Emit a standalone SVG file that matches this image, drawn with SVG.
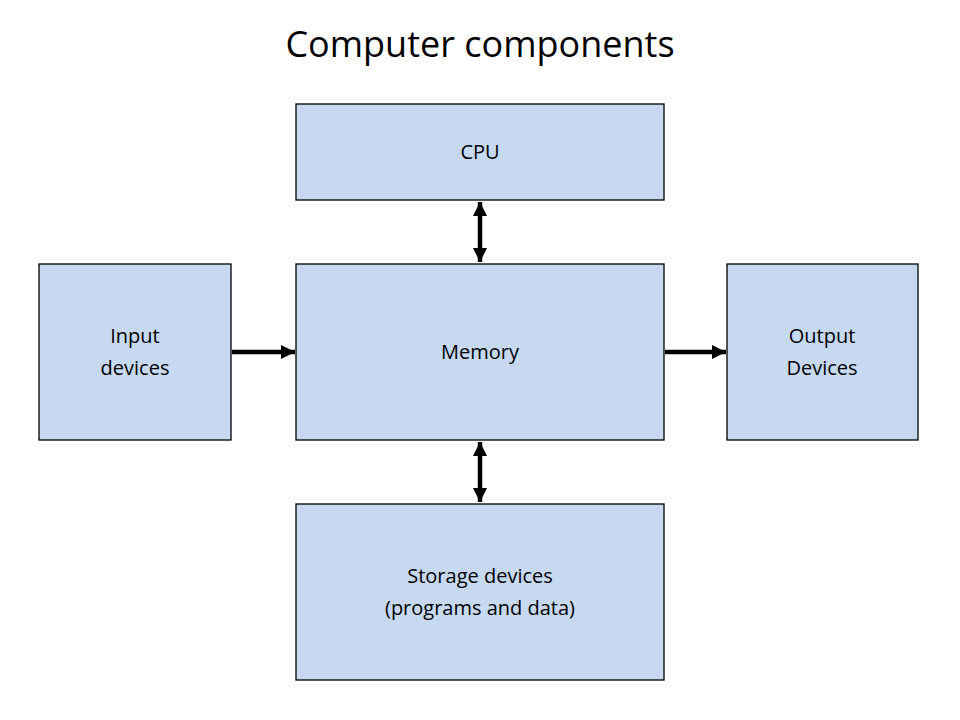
<svg xmlns="http://www.w3.org/2000/svg" width="960" height="720" viewBox="0 0 960 720">
<style>
.box{fill:#c6d9f1;stroke:#000;stroke-width:1.3}
.lbl{font-family:"Open Sans","Liberation Sans",sans-serif;font-size:20px;fill:#000;text-anchor:middle}
.con{stroke:#000;stroke-width:4.5;fill:none}
</style>
<defs>
<marker id="ah" viewBox="0 0 10 10" refX="10" refY="5" markerWidth="3.2" markerHeight="3.4" orient="auto-start-reverse" markerUnits="strokeWidth">
<path d="M0,0L10,5L0,10z" fill="#000"/>
</marker>
</defs>
<rect width="960" height="720" fill="#fff"/>
<text x="480" y="57" font-family="'Open Sans','Liberation Sans',sans-serif" font-size="36" text-anchor="middle">Computer components</text>
<g id="cpu"><rect class="box" x="296" y="104" width="368" height="96"/><text class="lbl" x="480" y="159">CPU</text></g>
<g id="memory"><rect class="box" x="296" y="264" width="368" height="176"/><text class="lbl" x="480" y="359">Memory</text></g>
<g id="input"><rect class="box" x="39" y="264" width="192" height="176"/><text class="lbl" x="135" y="343">Input</text><text class="lbl" x="135" y="375">devices</text></g>
<g id="output"><rect class="box" x="727" y="264" width="191" height="176"/><text class="lbl" x="822" y="343">Output</text><text class="lbl" x="822" y="375">Devices</text></g>
<g id="storage"><rect class="box" x="296" y="504" width="368" height="176"/><text class="lbl" x="480" y="583">Storage devices</text><text class="lbl" x="480" y="615">(programs and data)</text></g>
<g id="connectors">
<line class="con" x1="480" y1="202" x2="480" y2="262" marker-start="url(#ah)" marker-end="url(#ah)"/>
<line class="con" x1="480" y1="442" x2="480" y2="502" marker-start="url(#ah)" marker-end="url(#ah)"/>
<line class="con" x1="232" y1="352" x2="295" y2="352" marker-end="url(#ah)"/>
<line class="con" x1="665" y1="352" x2="726" y2="352" marker-end="url(#ah)"/>
</g>
</svg>
